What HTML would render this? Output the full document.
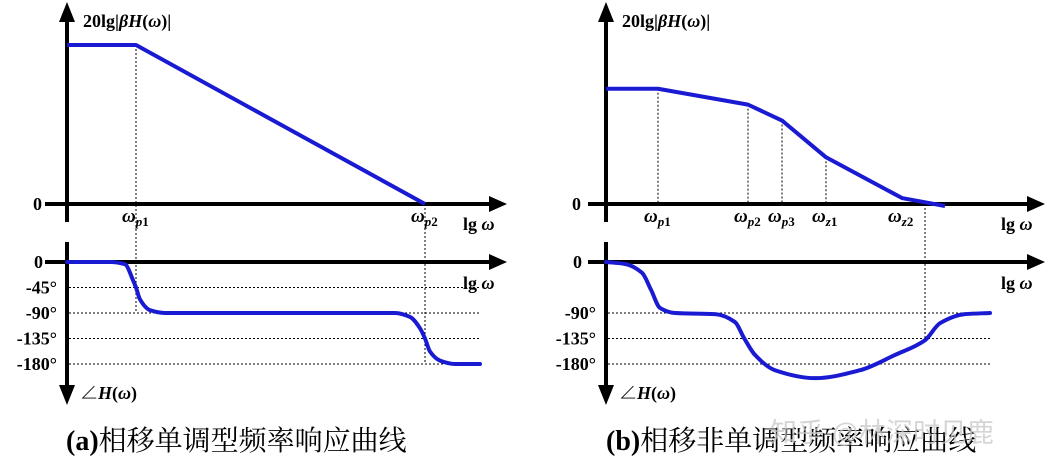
<!DOCTYPE html>
<html><head><meta charset="utf-8">
<style>
html,body{margin:0;padding:0;background:#fff;}
svg{display:block;}
text{font-family:"Liberation Serif","Noto Serif CJK SC",serif;font-weight:bold;fill:#000;}
.cap{font-family:"Liberation Serif","Noto Serif CJK SC",serif;font-weight:normal;font-size:28px;}
</style></head>
<body>
<svg id="c" width="1051" height="473" viewBox="0 0 1051 473">
<g id="g"></g>
</svg>
<script>
// ---- data (x in log-frequency units, magnitude in arbitrary dB units, phase in degrees)
const phaseTicks = [0, -45, -90, -135, -180];
const phaseTickLabelsA = ["0", "-45°", "-90°", "-135°", "-180°"];
const phaseTickLabelsB = ["0", "-90°", "-135°", "-180°"];
const phaseTicksB = [0, -90, -135, -180];
// panel a
const magAx = [0, 17.25, 89.5];
const magAy = [40, 40, 0];
const breakA = [17.25, 89.5];
const breakALabels = ["p1", "p2"];
const phAx = [0, 10.75, 14.5, 16.5, 17.25, 18.25, 20.75, 24.5, 82, 85.75, 88.25, 89.5, 90.75, 93.25, 97, 103.25];
const phAy = [0, 0, -4, -32, -45, -66, -85, -90, -90, -97, -117, -135, -158, -174, -180, -180];
// panel b
const magBx = [0, 13, 35.5, 44, 55, 74, 84.75];
const magBy = [29, 29, 25, 21, 11.75, 1.5, -0.5];
const breakB = [13, 35.5, 44, 55, 74];
const breakBLabels = ["p1", "p2", "p3", "z1", "z2"];
const phBx = [0, 4.75, 9, 11.25, 13.5, 17.25, 27.25, 32.25, 34.5, 37.25, 42.25, 52.25, 63.5, 72.25, 79.75, 83.5, 89.75, 96];
const phBy = [0, -3.5, -19, -49, -81, -90, -92, -106, -134, -164, -191, -205, -191, -164, -138, -108, -92, -90];

const g = document.getElementById('g');
const NS = 'http://www.w3.org/2000/svg';
function mk(tag, attrs, parent) {
  const e = document.createElementNS(NS, tag);
  for (const k in attrs) e.setAttribute(k, attrs[k]);
  (parent || g).appendChild(e);
  return e;
}
function txt(x, y, s, size, anchor, style) {
  const t = mk('text', {x: x, y: y, 'font-size': size, 'text-anchor': anchor || 'start'});
  if (style) t.setAttribute('font-style', style);
  t.textContent = s;
  return t;
}
// monotone cubic (Fritsch–Carlson) path through points sorted by x
function smooth(pts) {
  const n = pts.length, dx = [], m = [], t = [];
  for (let i = 0; i < n - 1; i++) { dx[i] = pts[i + 1][0] - pts[i][0]; m[i] = (pts[i + 1][1] - pts[i][1]) / dx[i]; }
  t[0] = m[0]; t[n - 1] = m[n - 2];
  for (let i = 1; i < n - 1; i++) t[i] = (m[i - 1] * m[i] <= 0) ? 0 : 3 * (dx[i - 1] + dx[i]) / ((2 * dx[i] + dx[i - 1]) / m[i - 1] + (dx[i] + 2 * dx[i - 1]) / m[i]);
  let d = 'M' + pts[0][0] + ',' + pts[0][1];
  for (let i = 0; i < n - 1; i++) {
    const h = dx[i] / 3;
    d += ' C' + (pts[i][0] + h) + ',' + (pts[i][1] + t[i] * h) + ' ' + (pts[i + 1][0] - h) + ',' + (pts[i + 1][1] - t[i + 1] * h) + ' ' + pts[i + 1][0] + ',' + pts[i + 1][1];
  }
  return d;
}
function arrowHead(x, y, dir) {
  let pts;
  if (dir === 'r') pts = [[x, y], [x - 18, y - 8], [x - 18, y + 8]];
  if (dir === 'u') pts = [[x, y], [x - 8, y + 20], [x + 8, y + 20]];
  if (dir === 'd') pts = [[x, y], [x - 8, y - 20], [x + 8, y - 20]];
  const p = mk('polygon', {points: pts.map(q => q.join(',')).join(' '), fill: '#000'});
  
  
}

function panel(o) {
  const ox = o.ox;
  const X = v => ox + v * 4;
  const Ym = v => 204 - v * (159 / 40);
  const Yp = v => 262 - v * (51 / 90);
  let l = mk('line', {x1: ox, y1: 222, x2: ox, y2: 18, stroke: '#000', 'stroke-width': 4});
   
  arrowHead(ox, 2, 'u');
  l = mk('line', {x1: ox - o.lead, y1: 204, x2: 490 + o.ax, y2: 204, stroke: '#000', 'stroke-width': 4});
   
  arrowHead(507 + o.ax, 204, 'r');
  let t = txt(ox + 16, 27, '20lg|', 18);  
  const ts = mk('tspan', {'font-style': 'italic'}, t); ts.textContent = 'βH';
  const ts2 = mk('tspan', {}, t); ts2.textContent = '(';
  const ts3 = mk('tspan', {'font-style': 'italic'}, t); ts3.textContent = 'ω';
  const ts4 = mk('tspan', {}, t); ts4.textContent = ')|';
  t = txt(ox - 34, 210, '0', 18);  
  t = txt(463 + o.ax, 230, 'lg ', 18);  
  let s = mk('tspan', {'font-style': 'italic'}, t); s.textContent = 'ω';

  l = mk('line', {x1: ox, y1: 242, x2: ox, y2: 388, stroke: '#000', 'stroke-width': 4});
   
  arrowHead(ox, 405, 'd');
  l = mk('line', {x1: ox - o.lead, y1: 262, x2: 490 + o.ax, y2: 262, stroke: '#000', 'stroke-width': 4});
   
  arrowHead(507 + o.ax, 262, 'r');
  t = txt(463 + o.ax, 289, 'lg ', 18);  
  s = mk('tspan', {'font-style': 'italic'}, t); s.textContent = 'ω';
  t = txt(ox + 13, 399, '∠', 18);  
  s = mk('tspan', {'font-style': 'italic'}, t); s.textContent = 'H';
  s = mk('tspan', {}, t); s.textContent = '(';
  s = mk('tspan', {'font-style': 'italic'}, t); s.textContent = 'ω';
  s = mk('tspan', {}, t); s.textContent = ')';

  o.pt.forEach((v, i) => {
    const y = Yp(v);
    const tt = txt(v === 0 ? ox - 24 : ox - 10, y + 6, o.ptl[i], 18, 'end');
    
    
    if (v !== 0) {
      const dl = mk('line', {x1: ox + 2, y1: y, x2: o.gridEnd, y2: y, stroke: '#000', 'stroke-width': 1, 'stroke-dasharray': '2,2'});
      
      
    }
  });

  o.br.forEach((b, i) => {
    const x = X(b);
    const yTop = Ym(o.magAt(b));
    const dl = mk('line', {x1: x, y1: yTop, x2: x, y2: o.brBottom[i], stroke: '#000', 'stroke-width': 1, 'stroke-dasharray': '2,2'});
    
    
    const lt = txt(x - 14, 222, 'ω', 19, 'start', 'italic');
    
    
    const sub = mk('tspan', {'font-size': 13, dy: 4, 'font-style': 'italic'}, lt);
    sub.textContent = o.brl[i][0];
    const sub2 = mk('tspan', {'font-size': 13, 'font-style': 'normal'}, lt);
    sub2.textContent = o.brl[i].slice(1);
  });

  const mp = mk('polyline', {points: o.mx.map((v, i) => X(v) + ',' + Ym(o.my[i])).join(' '), fill: 'none', stroke: '#1a1ad2', 'stroke-width': 4, 'stroke-linejoin': 'round'});
  
  
  const pp = mk('path', {d: smooth(o.px.map((v, i) => [X(v), Yp(o.py[i])])), fill: 'none', stroke: '#1a1ad2', 'stroke-width': 4, 'stroke-linecap': 'round'});
  
  
}
function interp(xs, ys) {
  return v => {
    for (let i = 0; i < xs.length - 1; i++) if (v >= xs[i] && v <= xs[i + 1]) return ys[i] + (ys[i + 1] - ys[i]) * (v - xs[i]) / (xs[i + 1] - xs[i]);
    return ys[ys.length - 1];
  };
}
panel({ox: 67, ax: 0, lead: 22, mx: magAx, my: magAy, px: phAx, py: phAy, pt: phaseTicks, ptl: phaseTickLabelsA,
  br: breakA, brl: breakALabels, brBottom: [312, 362], gridEnd: 480, magAt: interp(magAx, magAy)});
panel({ox: 606, ax: 538, lead: 18, mx: magBx, my: magBy, px: phBx, py: phBy, pt: phaseTicksB, ptl: phaseTickLabelsB,
  br: breakB, brl: breakBLabels, brBottom: [204, 204, 204, 204, 204], gridEnd: 990, magAt: interp(magBx, magBy)});
const ext = mk('line', {x1: 925, y1: 204, x2: 925, y2: 339, stroke: '#000', 'stroke-width': 1, 'stroke-dasharray': '2,2'});



let c = txt(66, 450, '', 28); c.setAttribute('class', 'cap');
 
let cs = mk('tspan', {'font-weight': 'bold'}, c); cs.textContent = '(a)';
cs = mk('tspan', {}, c); cs.textContent = '相移单调型频率响应曲线';
c = txt(606, 450, '', 28); c.setAttribute('class', 'cap');
 
cs = mk('tspan', {'font-weight': 'bold'}, c); cs.textContent = '(b)';
cs = mk('tspan', {}, c); cs.textContent = '相移非单调型频率响应曲线';
const wm = txt(770, 442, '知乎 @林深时见鹿', 27);
wm.setAttribute('style', 'font-family:"Liberation Sans","Noto Sans CJK SC",sans-serif;font-weight:normal;fill:#c8c8c8;opacity:0.75');


</script>
</body></html>
